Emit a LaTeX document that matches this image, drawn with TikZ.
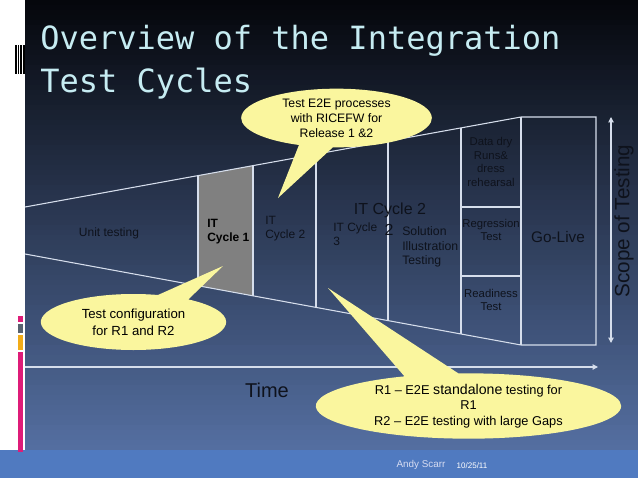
\documentclass[tikz,border=0pt]{standalone}
\usepackage{fontspec}
\setmainfont{Liberation Sans}
\newfontfamily\titlemono{DejaVu Sans Mono}
\usetikzlibrary{calc, shapes.callouts, arrows.meta}

\definecolor{slidetop}{RGB}{5,7,12}
\definecolor{slidebot}{RGB}{84,110,160}
\definecolor{footblue}{RGB}{80,122,192}
\definecolor{titlecyan}{RGB}{198,236,242}
\definecolor{noteyellow}{RGB}{250,246,158}
\definecolor{linegray}{RGB}{214,222,236}
\definecolor{inkdark}{RGB}{14,18,28}
\definecolor{cyclegray}{RGB}{128,128,128}
\definecolor{accpink}{RGB}{222,28,120}
\definecolor{accgold}{RGB}{242,172,24}
\definecolor{accslate}{RGB}{88,98,112}
\definecolor{footink}{RGB}{214,220,242}

\begin{document}
\begin{tikzpicture}[
  x=0.75pt, y=-0.75pt,
  funnel/.style={draw=linegray, line width=0.8pt},
  axistip/.style={-{Triangle[width=4pt,length=4pt]}},
  itlabel/.style={text=inkdark, inner sep=0pt, align=left, font=\fontsize{9}{10.5}\selectfont},
  boxlabel/.style={text=inkdark, inner sep=0pt, align=center, font=\fontsize{8.5}{10.3}\selectfont},
  bubblenote/.style={ellipse callout, fill=noteyellow, draw=none, inner sep=0pt, align=center,
    callout pointer arc=21, text=black}
]
\useasboundingbox (0,0) rectangle (638,478);
% slide background, banded gradient
\fill[white] (0,0) rectangle (25,450);
\foreach \band in {0,...,89} {
  \pgfmathtruncatemacro\bandpct{round(100*\band/89)}
  \fill[slidebot!\bandpct!slidetop] (25,\band*5) rectangle (638,\band*5+5.3);
}
\fill[footblue] (0,450) rectangle (638,478);
\foreach \sx in {15,17.7,20.4,23.1}
  \fill[black] (\sx,45) rectangle ++(1.7,29);
\fill[accpink] (18,316) rectangle (23,322);
\fill[accslate] (18,324) rectangle (23,333);
\fill[accgold] (18,335) rectangle (23,350);
\fill[accpink] (18,352) rectangle (23,452);

\node[anchor=north west, inner sep=0pt, align=left, text=titlecyan,
  font=\titlemono\fontsize{24}{32}\selectfont] (title) at (40,25)
  {Overview of the Integration\\Test Cycles};

% funnel
\coordinate (ftl) at (25,207);
\coordinate (ftr) at (521,117);
\coordinate (fbl) at (25,254);
\coordinate (fbr) at (521,345);
\coordinate (gltr) at (596,117);
\coordinate (glbr) at (596,345);
\fill[cyclegray] ($(ftl)!0.3488!(ftr)$) -- ($(ftl)!0.4597!(ftr)$)
  -- ($(fbl)!0.4597!(fbr)$) -- ($(fbl)!0.3488!(fbr)$) -- cycle;
\draw[funnel] (ftl) -- (ftr) -- (gltr) -- (glbr) -- (fbr) -- (fbl);
\draw[funnel] (ftr) -- (fbr);
\foreach \vx in {198,253,316,388,461} {
  \pgfmathsetmacro\cutfrac{(\vx-25)/496}
  \draw[funnel] ($(ftl)!\cutfrac!(ftr)$) -- ($(fbl)!\cutfrac!(fbr)$);
}
\draw[funnel] (461,207) -- (521,207);
\draw[funnel] (461,276) -- (521,276);

% axes
\coordinate (tstart) at (25,367);
\coordinate (tend) at (598,367);
\draw[funnel, axistip] (tstart) -- (tend);
\coordinate (sbot) at (611,343);
\coordinate (stop) at (611,117);
\draw[funnel, {Triangle[width=4pt,length=4pt]}-{Triangle[width=4pt,length=4pt]}] (sbot) -- (stop);

% labels
\node[itlabel] (unit) at (109,233) {Unit testing};
\node[itlabel, anchor=west, text=black, font=\bfseries\fontsize{9}{10.5}\selectfont] (cyc1) at (207,232) {IT\\Cycle 1};
\node[itlabel, anchor=west] (cyc2) at (265,229) {IT\\Cycle 2};
\node[itlabel, anchor=west] (cyc3) at (333,234) {IT Cycle\\3};
\node[itlabel, font=\fontsize{12}{14}\selectfont] (cyc2big) at (390,210) {IT Cycle 2};
\node[itlabel, font=\fontsize{12}{14}\selectfont] (two) at (389,230) {2};
\node[itlabel, anchor=west, font=\fontsize{9.2}{10.9}\selectfont] (solution) at (402,247) {Solution\\Illustration\\Testing};
\node[boxlabel] (dryrun) at (491,162) {Data dry\\Runs\&\\dress\\rehearsal};
\node[boxlabel] (regress) at (491,230) {Regression\\Test};
\node[boxlabel] (ready) at (491,300) {Readiness\\Test};
\node[itlabel, font=\fontsize{11.5}{13}\selectfont] (golive) at (558,237) {Go-Live};
\node[text=inkdark, inner sep=0pt, rotate=90, font=\fontsize{15.5}{17}\selectfont] (scope) at (624,221) {Scope of Testing};
\node[itlabel, font=\fontsize{15}{17}\selectfont] (time) at (267,390) {Time};

% callouts
\coordinate (ricefwtip) at (278,198);
\node[bubblenote, minimum width=143pt, minimum height=44pt, callout absolute pointer={(ricefwtip)},
  font=\fontsize{9.2}{11.2}\selectfont] (ricefw) at (336.5,118)
  {Test E2E processes\\with RICEFW for\\Release 1 \&2};
\coordinate (configtip) at (223,266);
\node[bubblenote, minimum width=139pt, minimum height=42pt, callout absolute pointer={(configtip)},
  font=\fontsize{9.9}{12.5}\selectfont] (config) at (133.5,322)
  {Test configuration\\for R1 and R2};
\coordinate (gapstip) at (328,288);
\node[bubblenote, minimum width=229pt, minimum height=49pt, callout absolute pointer={(gapstip)},
  font=\fontsize{9.6}{11.6}\selectfont] (gaps) at (468.5,406)
  {R1 -- E2E {\fontsize{10.6}{11.6}\selectfont standalone} testing for\\R1\\R2 -- E2E testing with large Gaps};

% footer
\node[text=footink, inner sep=0pt, font=\fontsize{7.4}{9}\selectfont] (author) at (421,465) {Andy Scarr};
\node[text=white, inner sep=0pt, font=\fontsize{6}{7}\selectfont] (date) at (472,466) {10/25/11};
\end{tikzpicture}
\end{document}
